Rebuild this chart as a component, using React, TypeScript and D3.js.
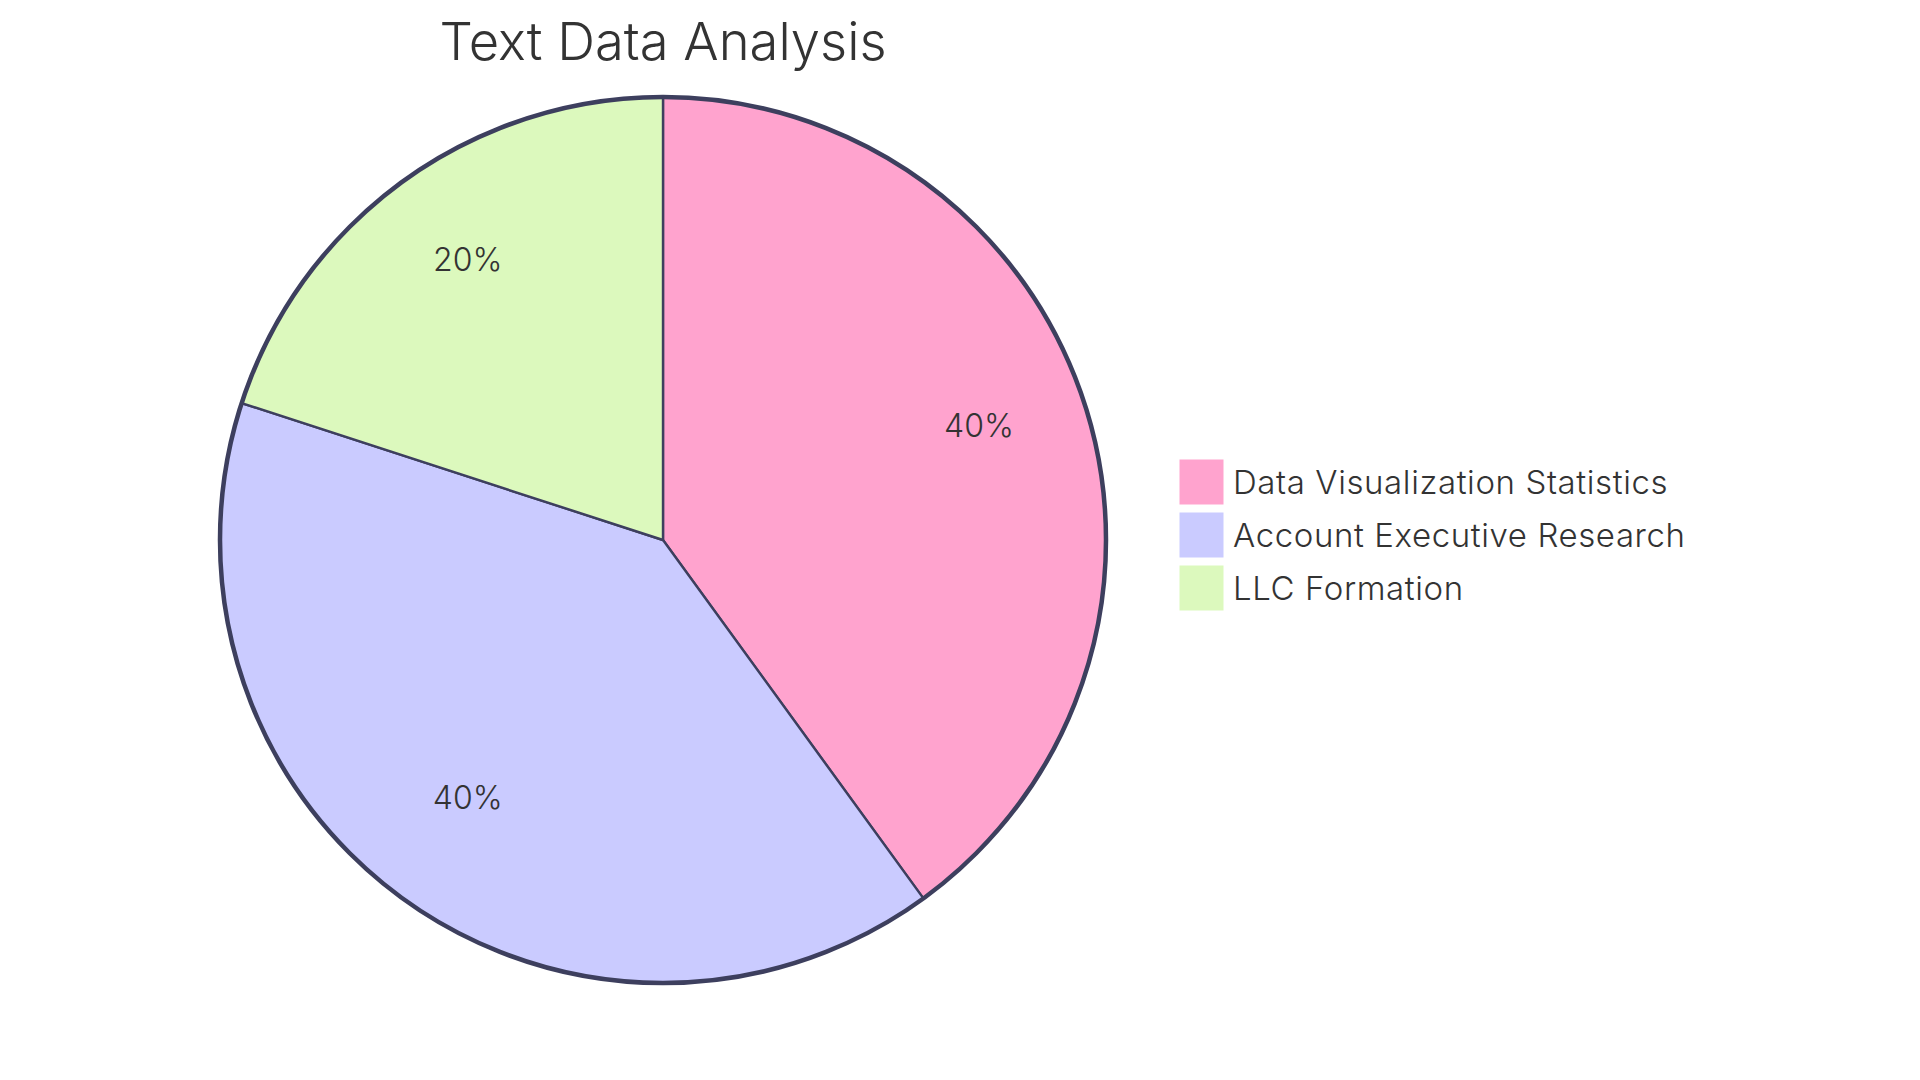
import { useEffect, useRef } from 'react';
import * as d3 from 'd3';

const categories = ['Data Visualization Statistics', 'Account Executive Research', 'LLC Formation'];
const values = [40, 40, 20];
const colors = ['#FFA3CE', '#CACBFF', '#DCF9BD'];
const title = 'Text Data Analysis';

export default function App() {
  const svgRef = useRef<SVGSVGElement>(null);

  useEffect(() => {
    if (!svgRef.current) return;
    const width = 1920;
    const height = 1080;
    const cx = 663;
    const cy = 540;
    const radius = 443;
    const stroke = '#3D3F5E';
    const font = 'Inter, "Noto Sans", sans-serif';

    const svg = d3.select(svgRef.current);
    svg.selectAll('*').remove();
    svg.attr('width', width).attr('height', height);

    const data = categories.map((name, i) => ({ name, value: values[i], color: colors[i] }));
    const total = d3.sum(values);

    const pie = d3.pie<{ name: string; value: number; color: string }>()
      .sort(null)
      .value(d => d.value);
    const arcs = pie(data);

    const arc = d3.arc<d3.PieArcDatum<any>>().innerRadius(0).outerRadius(radius);
    const labelArc = d3.arc<d3.PieArcDatum<any>>().innerRadius(radius * 0.75).outerRadius(radius * 0.75);

    const g = svg.append('g').attr('transform', `translate(${cx},${cy})`);

    g.selectAll('path.slice')
      .data(arcs)
      .join('path')
      .attr('class', 'slice')
      .attr('d', arc as any)
      .attr('fill', d => d.data.color)
      .attr('stroke', stroke)
      .attr('stroke-width', 2.4);

    g.append('circle')
      .attr('r', radius)
      .attr('fill', 'none')
      .attr('stroke', stroke)
      .attr('stroke-width', 4.5);

    g.selectAll('text.pct')
      .data(arcs)
      .join('text')
      .attr('class', 'pct')
      .attr('transform', d => `translate(${labelArc.centroid(d as any)})`)
      .attr('text-anchor', 'middle')
      .attr('font-family', font)
      .attr('font-weight', 300)
      .attr('font-size', 32)
      .attr('fill', '#333333')
      .text(d => `${d3.format('.0f')((d.data.value / total) * 100)}%`);

    svg.append('text')
      .attr('x', cx)
      .attr('y', 60)
      .attr('text-anchor', 'middle')
      .attr('font-family', font)
      .attr('font-weight', 300)
      .attr('font-size', 52.5)
      .attr('fill', '#333333')
      .text(title);

    const legend = svg.append('g').attr('transform', 'translate(1180,460)');
    const rows = legend.selectAll('g')
      .data(data)
      .join('g')
      .attr('transform', (_d, i) => `translate(0,${i * 53})`);

    rows.append('rect')
      .attr('width', 43)
      .attr('height', 44)
      .attr('fill', d => d.color)
      .attr('stroke', d => d.color)
      .attr('stroke-width', 1);

    rows.append('text')
      .attr('x', 53)
      .attr('y', 34)
      .attr('font-family', font)
      .attr('font-weight', 300)
      .attr('font-size', 33)
      .attr('letter-spacing', 0.6)
      .attr('fill', '#333333')
      .text(d => d.name);
  }, []);

  return (
    <svg
      ref={svgRef}
      style={{ position: 'absolute', left: 0, top: 0, background: '#ffffff', display: 'block' }}
    />
  );
}
